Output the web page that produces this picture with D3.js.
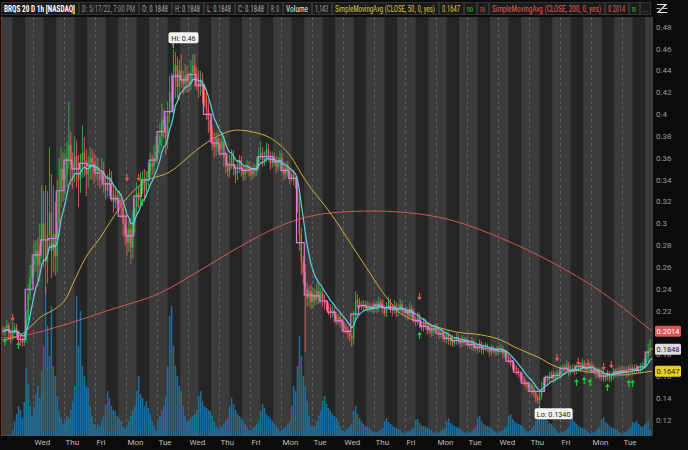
<!DOCTYPE html>
<html>
<head>
<meta charset="utf-8">
<script src="https://cdn.jsdelivr.net/npm/d3@7"></script>
<style>
  html, body { margin: 0; padding: 0; background: #0b0b0b; }
  svg { display: block; font-family: Roboto, "Open Sans", sans-serif; }
</style>
</head>
<body>
<script>
// ---- data (hourly bars, 16 per day incl. extended hours; prices x1000) ----
const dayNames = ["Tue", "Wed", "Thu", "Fri", "Mon", "Tue", "Wed", "Thu", "Fri", "Mon", "Tue",
                  "Wed", "Thu", "Fri", "Mon", "Tue", "Wed", "Thu", "Fri", "Mon", "Tue"];

const closes = [
  201,204,207,199,196,202,205,200,196,193,191,195,212,235,250,262,
  268,275,262,280,300,285,265,290,310,275,290,270,300,330,350,340,
  345,360,372,355,350,362,348,340,352,365,358,345,350,360,355,348,
  352,345,340,348,338,330,335,342,328,320,325,318,322,315,300,290,
  282,295,278,300,315,328,322,335,340,330,342,348,355,352,360,365,
  372,380,395,390,378,400,420,412,430,445,425,440,432,428,436,430,
  428,438,445,435,430,425,432,420,415,405,395,385,375,370,378,372,
  368,375,360,352,348,355,362,350,345,352,358,348,345,350,352,348,
  345,350,348,355,362,365,358,360,368,362,355,360,358,352,356,360,
  350,345,352,348,342,345,340,338,320,290,265,255,240,232,238,228,
  235,230,238,232,236,230,226,224,222,218,220,215,212,214,210,207,
  205,203,200,197,195,215,230,228,226,224,226,223,225,222,224,222,
  225,222,228,226,222,218,224,228,222,220,225,218,222,226,220,218,
  220,215,222,218,212,210,215,208,205,210,206,202,205,200,203,205,
  202,198,200,196,194,198,192,195,190,193,196,192,190,194,191,193,
  190,188,192,186,188,185,190,184,186,188,185,182,186,184,182,185,
  184,186,180,182,178,176,172,170,168,165,162,160,158,155,152,150,
  152,148,145,140,138,142,150,155,158,156,160,162,158,160,163,162,
  165,168,166,170,164,166,168,165,167,170,168,172,169,166,168,170,
  168,165,162,165,160,163,158,160,162,158,161,164,162,165,163,166,
  164,166,163,165,167,165,168,166,165,168,170,172,176,182,186,184.8
];

// wick above max(open, close) and below min(open, close), x1000
const wickUp = [
  3,2,5,2,3,8,4,3,2,2,3,6,8,10,12,10,
  15,10,12,20,35,30,50,40,60,35,45,30,40,30,20,15,
  20,15,40,12,10,18,14,15,12,25,14,10,12,10,8,10,
  10,8,6,12,8,6,10,8,6,8,7,5,8,6,5,8,
  6,8,10,12,8,10,6,12,8,10,6,8,10,8,12,15,
  10,12,15,10,8,12,15,18,30,12,8,10,15,8,10,8,
  8,12,10,10,8,10,8,6,8,6,8,6,5,8,6,5,
  6,8,5,6,4,8,6,5,4,6,5,4,5,4,6,5,
  5,6,4,6,8,10,5,6,6,5,4,6,5,4,5,6,
  5,6,4,5,4,5,4,3,5,8,6,5,8,6,5,6,
  6,5,8,6,5,4,5,4,3,4,5,3,4,3,4,3,
  3,4,3,2,3,5,8,5,4,3,4,3,4,3,3,4,
  3,4,5,3,4,3,4,5,3,4,5,3,4,5,3,3,
  4,3,6,3,4,3,4,3,3,4,3,3,4,3,3,3,
  3,3,4,3,2,4,3,4,3,3,4,3,3,4,2,3,
  2,3,4,2,3,2,4,2,3,3,2,2,3,2,2,3,
  3,4,2,3,2,3,2,3,2,2,3,2,3,2,2,3,
  3,2,3,2,3,4,5,4,3,3,4,3,3,4,3,2,
  4,3,3,5,3,4,3,3,4,5,3,4,3,3,4,3,
  3,3,4,3,3,4,3,3,4,3,3,4,3,3,4,3,
  3,3,3,3,4,3,3,3,3,4,3,4,5,8,8,0
];
const wickDn = [
  3,4,3,5,6,3,4,5,6,5,4,3,4,4,5,6,
  10,12,20,15,12,25,30,20,15,25,20,18,15,12,15,20,
  15,12,10,20,18,12,15,25,12,10,15,20,12,10,15,12,
  8,10,8,6,10,8,6,10,8,10,6,8,6,10,12,10,
  12,8,15,10,8,6,8,6,8,10,6,8,6,8,6,5,
  6,8,10,12,15,10,8,10,12,15,10,12,8,10,8,10,
  8,6,8,10,8,10,8,10,8,10,12,10,8,10,8,6,
  6,5,8,6,5,6,5,6,8,5,6,5,6,5,4,5,
  5,4,5,4,5,4,6,5,4,5,6,4,5,6,4,5,
  4,5,4,5,6,4,5,6,10,15,12,10,58,8,8,6,
  6,5,4,6,5,6,5,4,6,5,4,6,5,4,5,6,
  5,4,6,5,8,6,4,5,4,3,4,3,4,3,3,4,
  3,4,3,4,5,3,4,3,4,5,3,4,3,3,4,3,
  3,4,3,4,3,4,3,4,3,4,3,4,3,4,3,3,
  3,4,3,4,3,4,3,4,3,3,4,3,4,3,3,3,
  3,3,4,3,3,4,3,3,4,3,3,4,3,3,3,3,
  3,3,4,3,3,4,3,4,3,4,3,4,3,4,4,5,
  4,5,4,4,3.4,4,3,4,3,4,3,3,4,3,3,3,
  3,3,4,3,4,3,3,4,3,3,4,3,3,4,3,3,
  3,3,4,3,3,4,3,3,4,3,3,4,3,3,3,3,
  3,3,4,3,3,4,3,3,3,3,3,3,3,3,3,0
];

// volume, thousands of shares
const volumes = [
  5,3,8,10,15,60,150,220,300,260,180,340,680,520,300,200,
  300,420,500,380,650,900,1500,1100,800,1300,700,600,400,250,180,120,
  150,200,180,260,350,500,1400,900,1250,700,600,500,480,300,200,120,
  80,120,100,150,200,320,450,380,300,260,250,200,180,150,100,80,
  100,150,200,260,300,450,600,420,380,300,350,280,220,150,100,60,
  150,200,250,300,400,700,1200,1300,900,700,600,500,450,300,200,150,
  150,180,200,220,260,400,450,350,300,280,260,250,200,150,100,80,
  80,100,120,150,180,300,380,320,260,220,200,180,150,120,90,60,
  60,80,100,120,150,250,320,280,220,200,180,150,120,100,80,50,
  60,80,100,120,150,300,500,450,700,1000,800,600,500,350,200,100,
  80,100,150,200,250,350,400,320,280,250,220,200,180,150,100,60,
  40,60,80,100,120,250,300,220,180,150,120,100,90,80,60,40,
  30,40,50,60,80,150,180,140,120,100,90,80,70,60,40,30,
  30,45,50,70,80,160,170,130,110,100,95,80,70,60,40,30,
  25,40,55,60,80,150,175,130,115,100,90,85,70,55,40,30,
  30,40,50,70,90,180,200,150,120,110,100,90,80,60,40,30,
  40,50,60,80,100,200,220,170,150,130,120,110,100,80,50,30,
  60,80,100,150,200,260,280,220,180,150,130,120,100,80,50,30,
  30,40,50,70,90,170,180,140,120,100,90,80,70,60,40,20,
  30,40,50,70,90,165,185,140,125,100,90,80,70,60,40,20,
  30,40,50,70,90,140,130,150,120,100,90,110,130,150,60,1.143
];

// SimpleMovingAvg(CLOSE, 50) and (CLOSE, 200), read at these bar indices
const sma50Bars = [0, 9, 21, 26, 33, 37, 42, 50, 64, 72, 86, 102, 109, 121, 129, 138, 148, 156,
                   169, 186, 199, 205, 221, 234, 247, 257, 264, 276, 286, 295, 307, 319, 328, 335];
const sma50Vals = [0.1933, 0.1979, 0.2162, 0.2208, 0.2327, 0.2482, 0.2666, 0.2867, 0.3234, 0.3371,
                   0.3472, 0.3701, 0.3783, 0.3856, 0.3838, 0.3783, 0.3627, 0.3398, 0.3096, 0.2638,
                   0.2299, 0.2180, 0.2070, 0.2006, 0.1979, 0.1933, 0.1869, 0.1777, 0.1685, 0.1658,
                   0.1631, 0.1612, 0.1631, 0.1647];
const sma200Bars = [0, 9, 33, 55, 81, 102, 122, 143, 153, 169, 190, 205, 231, 257, 283, 309, 324, 335];
const sma200Vals = [0.1951, 0.1969, 0.2079, 0.2208, 0.2363, 0.2574, 0.2785, 0.2977, 0.3041, 0.3096,
                    0.3114, 0.3105, 0.3032, 0.2867, 0.2647, 0.2372, 0.2171, 0.2014];

// study signals (bar index, price level)
const sellBars   = [5, 64, 70, 215, 286, 297, 302, 310, 314, 323];
const sellPrices = [0.2134, 0.3417, 0.3417, 0.2327, 0.1768, 0.1731, 0.1720, 0.1685, 0.1704, 0.1660];
const buyBars    = [1, 8, 72, 215, 296, 300, 303, 312, 323, 325];
const buyPrices  = [0.1920, 0.1887, 0.3200, 0.1979, 0.1548, 0.1567, 0.1548, 0.1502, 0.1539, 0.1539];

const priceTicks = [0.12, 0.14, 0.16, 0.18, 0.2, 0.22, 0.24, 0.26, 0.28, 0.3,
                    0.32, 0.34, 0.36, 0.38, 0.4, 0.42, 0.44, 0.46, 0.48];

const headerItems = [
  { text: "BRQS 20 D 1h [NASDAQ]", color: "#ffffff", bold: true },
  { text: "D: 5/17/22, 7:00 PM", color: "#8f8f8f" },
  { text: "O: 0.1848", color: "#a5a5a5" },
  { text: "H: 0.1848", color: "#a5a5a5" },
  { text: "L: 0.1848", color: "#a5a5a5" },
  { text: "C: 0.1848", color: "#a5a5a5" },
  { text: "R: 0", color: "#a5a5a5" },
  { text: "Volume", color: "#e6e6e6" },
  { text: "1,143", color: "#a5a5a5" },
  { text: "SimpleMovingAvg (CLOSE, 50, 0, yes)", color: "#d8c83c" },
  { text: "0.1647", color: "#d8c83c" },
  { text: "no", color: "#3cc23c" },
  { text: "no", color: "#e04848" },
  { text: "SimpleMovingAvg (CLOSE, 200, 0, yes)", color: "#e25a5a" },
  { text: "0.2014", color: "#e25a5a" },
  { text: "no", color: "#3cc23c" },
  { text: "...", color: "#9a9a9a" }
];
// header cell edges in px
const headerEdges = [1, 79, 139, 172, 204, 235, 268, 283, 312, 332, 439, 464, 477, 489, 605, 629, 640, 651];

// ---- chart ----
const W = 688, H = 450;
const plot = { left: 2, right: 653, top: 17, bottom: 436 };
const barsPerDay = 16;
const nBars = closes.length;

const bars = closes.map((c, i) => {
  const close = c / 1000;
  const open = (i === 0 ? closes[0] + 2 : closes[i - 1]) / 1000;
  return {
    i, open, close,
    high: Math.max(open, close) + wickUp[i] / 1000,
    low: Math.min(open, close) - wickDn[i] / 1000,
    volume: volumes[i]
  };
});

const x = d3.scaleLinear([0, nBars], [plot.left, plot.right]);
const y = d3.scaleLinear([0.12, 0.48], [420, 27]);
const yVol = d3.scaleLinear([0, 1600], [plot.bottom, 276]);
const bw = x(1) - x(0);

const svg = d3.select("body").append("svg")
  .attr("width", W)
  .attr("height", H);

svg.append("rect").attr("width", W).attr("height", H).attr("fill", "#0b0b0b");

svg.append("clipPath").attr("id", "plotclip")
  .append("rect")
  .attr("x", plot.left).attr("y", plot.top)
  .attr("width", plot.right - plot.left).attr("height", plot.bottom - plot.top);

const g = svg.append("g").attr("clip-path", "url(#plotclip)");

// session background: extended hours lighter, regular session darker
g.append("rect")
  .attr("x", plot.left).attr("y", plot.top)
  .attr("width", plot.right - plot.left).attr("height", plot.bottom - plot.top)
  .attr("fill", "#3b3b3b");

g.append("g").selectAll("rect")
  .data(dayNames)
  .join("rect")
  .attr("x", (d, i) => x(i * barsPerDay + 5.5))
  .attr("width", x(6.5) - x(0))
  .attr("y", plot.top)
  .attr("height", plot.bottom - plot.top)
  .attr("fill", "#252525");

g.append("g").selectAll("line")
  .data(dayNames.slice(1))
  .join("line")
  .attr("x1", (d, i) => Math.round(x((i + 1) * barsPerDay)) + 0.5)
  .attr("x2", (d, i) => Math.round(x((i + 1) * barsPerDay)) + 0.5)
  .attr("y1", plot.top).attr("y2", plot.bottom)
  .attr("stroke", "#5e5e5e")
  .attr("stroke-width", 1)
  .attr("stroke-dasharray", "3,3");

// volume
g.append("g").selectAll("rect")
  .data(bars)
  .join("rect")
  .attr("x", d => x(d.i) + 0.2)
  .attr("width", bw - 0.4)
  .attr("y", d => yVol(d.volume))
  .attr("height", d => plot.bottom - yVol(d.volume))
  .attr("fill", "#1f6f9a");

// moving averages
const line = d3.line().x(d => x(d[0] + 0.5)).y(d => y(d[1]));

g.append("path")
  .datum(sma200Bars.map((b, k) => [b, sma200Vals[k]]))
  .attr("fill", "none")
  .attr("stroke", "#cf5a5a")
  .attr("stroke-width", 1)
  .attr("d", line.curve(d3.curveMonotoneX));

g.append("path")
  .datum(sma50Bars.map((b, k) => [b, sma50Vals[k]]))
  .attr("fill", "none")
  .attr("stroke", "#c9b43a")
  .attr("stroke-width", 1)
  .attr("d", line.curve(d3.curveMonotoneX));

// candles
const candle = g.append("g").selectAll("g")
  .data(bars)
  .join("g")
  .attr("stroke", d => d.close >= d.open ? "#33b34a" : "#e2605c")
  .attr("fill", d => d.close >= d.open ? "#33b34a" : "#e2605c");

candle.append("line")
  .attr("x1", d => x(d.i + 0.5)).attr("x2", d => x(d.i + 0.5))
  .attr("y1", d => y(d.high)).attr("y2", d => y(d.low))
  .attr("stroke-width", 0.9);

candle.append("rect")
  .attr("x", d => x(d.i + 0.5) - 0.7)
  .attr("width", 1.4)
  .attr("y", d => y(Math.max(d.open, d.close)))
  .attr("height", d => Math.max(0.8, Math.abs(y(d.open) - y(d.close))))
  .attr("stroke", "none");

// fast averages from the closes: EMA 9 (cyan) and 4-bar block average (pink, stepped)
const ema = [];
closes.forEach((c, i) => {
  const k = 2 / (9 + 1);
  ema.push(i === 0 ? c / 1000 : ema[i - 1] + k * (c / 1000 - ema[i - 1]));
});
const blocks = d3.range(0, nBars, 4).map(s => [s + 1.5, d3.mean(closes.slice(s, s + 4)) / 1000]);

g.append("path")
  .datum(blocks)
  .attr("fill", "none")
  .attr("stroke", "#e27be0")
  .attr("stroke-width", 1.2)
  .attr("d", d3.line().x(d => x(d[0] + 0.5)).y(d => y(d[1])).curve(d3.curveStep));

g.append("path")
  .datum(ema.map((v, i) => [i, v]))
  .attr("fill", "none")
  .attr("stroke", "#5fd0e0")
  .attr("stroke-width", 1.2)
  .attr("d", d3.line().x(d => x(d[0] + 0.5)).y(d => y(d[1])));

// signal arrows
function arrow(cx, cy, down) {
  const s = down ? 1 : -1;
  return `M${cx - 0.6},${cy - 4 * s}L${cx + 0.6},${cy - 4 * s}L${cx + 0.6},${cy}L${cx + 2.4},${cy}` +
         `L${cx},${cy + 3.5 * s}L${cx - 2.4},${cy}L${cx - 0.6},${cy}Z`;
}
g.append("g").selectAll("path")
  .data(sellBars.map((b, k) => [b, sellPrices[k]]))
  .join("path")
  .attr("d", d => arrow(x(d[0] + 0.5), y(d[1]), true))
  .attr("fill", "#e2534f");

g.append("g").selectAll("path")
  .data(buyBars.map((b, k) => [b, buyPrices[k]]))
  .join("path")
  .attr("d", d => arrow(x(d[0] + 0.5), y(d[1]), false))
  .attr("fill", "#22c23a");

// Hi / Lo bubbles
const hiBar = bars.reduce((a, b) => (b.high > a.high ? b : a));
const loBar = bars.reduce((a, b) => (b.low < a.low ? b : a));

function bubble(text, px, py, bx, by, w) {
  const b = svg.append("g");
  b.append("line").attr("x1", px).attr("y1", py).attr("x2", bx + 4).attr("y2", by)
    .attr("stroke", "#e8e8e8").attr("stroke-width", 0.8);
  b.append("rect").attr("x", bx).attr("y", by - 5.5).attr("width", w).attr("height", 11)
    .attr("rx", 2).attr("fill", "#f4f4f4");
  b.append("text").attr("x", bx + w / 2).attr("y", by + 3)
    .attr("text-anchor", "middle").attr("font-size", 7.2).attr("fill", "#202020")
    .text(text);
}
bubble("Hi: " + d3.format(".2f")(hiBar.high), x(hiBar.i + 0.5), y(hiBar.high) - 1,
       x(hiBar.i + 0.5) - 5, y(hiBar.high) - 11, 30);
bubble("Lo: " + d3.format(".4f")(loBar.low), x(loBar.i + 0.5), y(loBar.low) + 1,
       x(loBar.i + 0.5) - 5, y(loBar.low) + 9, 38);

// left edge line
svg.append("line").attr("x1", 1.5).attr("x2", 1.5).attr("y1", plot.top).attr("y2", plot.bottom)
  .attr("stroke", "#7a3a3a").attr("stroke-width", 1);

// price axis
svg.append("g").selectAll("text")
  .data(priceTicks)
  .join("text")
  .attr("x", 656)
  .attr("y", d => y(d))
  .attr("dy", "0.35em")
  .attr("font-size", 8)
  .attr("fill", "#9c9c9c")
  .text(d => String(+d.toFixed(2)));

const lastTags = [
  { value: sma200Vals[sma200Vals.length - 1], bg: "#e05555", fg: "#ffffff" },
  { value: bars[nBars - 1].close, bg: "#dcdcdc", fg: "#202020" },
  { value: sma50Vals[sma50Vals.length - 1], bg: "#e6d21e", fg: "#202020" }
];
const tag = svg.append("g").selectAll("g").data(lastTags).join("g")
  .attr("transform", d => `translate(655,${y(d.value)})`);
tag.append("rect").attr("x", 0).attr("y", -5.5).attr("width", 26).attr("height", 11)
  .attr("rx", 1.5).attr("fill", d => d.bg);
tag.append("text").attr("x", 13).attr("y", 3).attr("text-anchor", "middle")
  .attr("font-size", 7.5).attr("fill", d => d.fg)
  .text(d => d3.format(".4f")(d.value));

// time axis
svg.append("g").selectAll("text")
  .data(dayNames.map((d, i) => [d, i]).slice(1))
  .join("text")
  .attr("x", d => x(d[1] * barsPerDay) + 1.5)
  .attr("y", 445)
  .attr("font-size", 8)
  .attr("fill", "#bdbdbd")
  .text(d => d[0]);

// header strip
const hdr = svg.append("g");
hdr.append("rect").attr("x", 0).attr("y", 0).attr("width", W).attr("height", plot.top).attr("fill", "#0b0b0b");
const cell = hdr.selectAll("g").data(headerItems).join("g");
cell.append("rect")
  .attr("x", (d, i) => headerEdges[i] + 0.5)
  .attr("y", 2.5)
  .attr("width", (d, i) => headerEdges[i + 1] - headerEdges[i] - 1)
  .attr("height", 12)
  .attr("fill", "#1b1b1b")
  .attr("stroke", "#343434")
  .attr("stroke-width", 1);
cell.append("text")
  .attr("x", (d, i) => headerEdges[i] + 3)
  .attr("y", 11.5)
  .attr("font-family", "'Liberation Sans Narrow', 'Roboto Condensed', Roboto, sans-serif")
  .attr("font-size", 8.5)
  .attr("font-weight", d => d.bold ? 700 : 400)
  .attr("fill", d => d.color)
  .attr("textLength", (d, i) => headerEdges[i + 1] - headerEdges[i] - 7)
  .attr("lengthAdjust", "spacingAndGlyphs")
  .text(d => d.text);

// settings icon top right
const icon = svg.append("g").attr("transform", "translate(656,3)")
  .attr("fill", "none").attr("stroke", "#e8e8e8").attr("stroke-width", 1.2);
icon.append("path").attr("d", "M1,1.5H10L2,9.5H11");
icon.append("path").attr("d", "M0.5,5.5H4M7,5.5H11.5").attr("stroke-width", 0.8);
</script>
</body>
</html>
